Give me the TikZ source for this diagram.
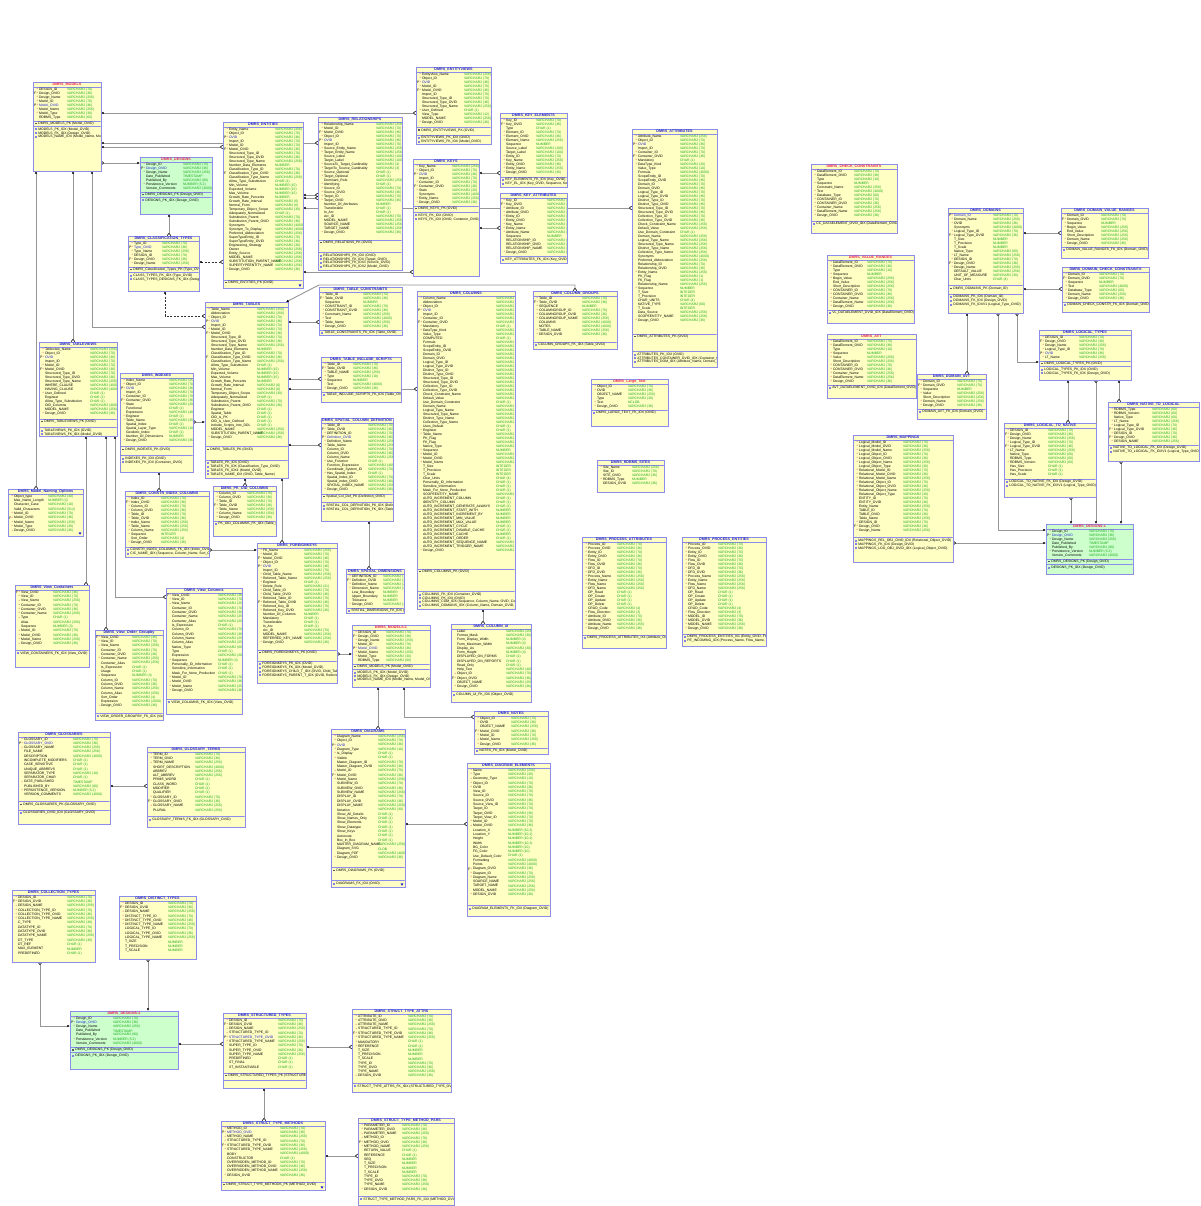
\documentclass[tikz,border=0pt]{standalone}
\usepackage{fontspec}
\setmainfont{Liberation Sans}
\usetikzlibrary{arrows.meta,positioning,backgrounds}

\definecolor{eryellow}{RGB}{255,255,196}
\definecolor{ergreen}{RGB}{204,255,204}
\definecolor{erborder}{RGB}{140,140,235}
\definecolor{ertype}{RGB}{20,170,20}
\definecolor{erblue}{RGB}{30,30,210}
\definecolor{erred}{RGB}{235,30,90}
\definecolor{linegray}{RGB}{150,150,150}

\tikzset
{
    tblbox/.style   = {draw=erborder, line width=0.8pt, fill=eryellow, inner sep=0pt, outer sep=0pt, anchor=north west},
    greenbox/.style = {fill=ergreen},
    redhead/.code   = {\gdef\ertcol{erred}},
    cell/.style     = {inner sep=0pt, outer sep=0pt, anchor=west, font=\fontsize{3.4}{4}\selectfont},
    headtext/.style = {inner sep=0pt, outer sep=0pt, font=\fontsize{3.7}{4}\selectfont\bfseries},
    sepline/.style  = {draw=erborder, line width=0.6pt},
    rel/.style      = {draw=linegray, line width=0.9pt},
    pc/.style       = {rel, {Latex[length=2.6pt,width=2.4pt,color=black]}-{Straight Barb[reversed,length=2.4pt,width=3.8pt,line width=0.6pt,color=black]}},
    dashrel/.style  = {draw=black!80, line width=0.5pt, dash pattern=on 2pt off 1.5pt}
}

% flag letter / star / name colour for each column code
\newcommand{\erLn}{}\newcommand{\erSn}{}\newcommand{\erCn}{}
\newcommand{\erLm}{}\newcommand{\erSm}{*}\newcommand{\erCm}{}
\newcommand{\erLp}{P}\newcommand{\erSp}{*}\newcommand{\erCp}{\color{erblue}}
\newcommand{\erLf}{F}\newcommand{\erSf}{*}\newcommand{\erCf}{}
\newcommand{\erLg}{F}\newcommand{\erSg}{}\newcommand{\erCg}{}

% [box options]{name}{x}{y}{width}{height}{type column}{title}
\newenvironment{ertbl}[8][]{%
  \gdef\ertcol{erblue}%
  \xdef\ername{#2}\xdef\erx{#3}\xdef\ery{#4}\xdef\erw{#5}\xdef\ertx{#7}%
  \node[tblbox,#1,minimum width=#5pt,minimum height=#6pt] (#2) at (#3,#4) {};
  \draw[sepline] ([yshift=-5.2pt]#2.north west) -- ([yshift=-5.2pt]#2.north east);
  \node[headtext,text=\ertcol] (#2-head) at ([yshift=-2.7pt]#2.north) {#8};
  \begin{scope}
  \clip (#3+0.4,#4+5.5) rectangle (#3+#5-0.4,#4+#6-0.4);
}{%
  \end{scope}
}

\newcommand{\ercols}[2][4]{%
  \xdef\erstep{#1}%
  \foreach[count=\i] \kk/\nm/\ty in {#2}{%
    \pgfmathsetmacro{\yy}{\ery+7.3+\erstep*(\i-1)}%
    \node[cell] (\ername-f\i) at (\erx+1.2,\yy) {\makebox[2.4pt][l]{\csname erL\kk\endcsname}\textcolor{erred}{\csname erS\kk\endcsname}};
    \node[cell] (\ername-c\i) at (\erx+6,\yy) {\csname erC\kk\endcsname\nm};
    \node[cell,text=ertype] (\ername-t\i) at (\erx+\ertx,\yy) {\ty};
    \xdef\ern{\i}%
  }%
  \pgfmathsetmacro{\erend}{\ery+7.3+\erstep*(\ern-1)+3.7}\xdef\ersep{\erend}%
}

\newcommand{\erline}[1][0]{%
  \pgfmathsetmacro{\erend}{\ersep+#1}\xdef\ersep{\erend}%
  \draw[sepline] (\erx,\ersep) -- (\erx+\erw,\ersep);
}

\newcommand{\erpk}[1]{%
  \pgfmathsetmacro{\yy}{\ersep+2.7}%
  \fill[black!65] (\erx+1.6,\yy-0.7) rectangle (\erx+4,\yy+0.7);
  \node[cell] (\ername-pk) at (\erx+5.4,\yy) {#1};
  \pgfmathsetmacro{\erend}{\ersep+5.4}\xdef\ersep{\erend}%
}

\newcommand{\eridx}[1]{%
  \foreach[count=\i] \ix in {#1}{%
    \pgfmathsetmacro{\yy}{\ersep+3.1+3.8*(\i-1)}%
    \fill[erblue!55] (\erx+1.6,\yy-1) rectangle (\erx+3.6,\yy+1);
    \node[cell] (\ername-x\i) at (\erx+5.4,\yy) {\ix};
  }%
}

\newcommand{\ermore}{%
  \fill[erblue] ([shift={(-3pt,1.2pt)}]\ername.south east) -- ++(1.5pt,2.5pt) -- ++(-3pt,0) -- cycle;
}

\begin{document}
\catcode`\_=12
\begin{tikzpicture}[x=1pt,y=-1pt]
\useasboundingbox (0,0) rectangle (1200,1206);

%% ---------------- upper left block
\begin{ertbl}[redhead]{models}{33}{82}{68}{89}{34}{DMRS_MODELS}
\ercols{m/DESIGN_ID/VARCHAR2 (70), f/Design_OVID/VARCHAR2 (36), m/Design_Name/VARCHAR2 (256), m/Model_ID/VARCHAR2 (70), p/Model_OVID/VARCHAR2 (36), m/Model_Name/VARCHAR2 (256), m/Model_Type/VARCHAR2 (30), n/RDBMS_Type/VARCHAR2 (60)}
\erline \erpk{DMRS_MODELS_PK (Model_OVID)} \erline
\eridx{MODELS_PK_IDX (Model_OVID), MODELS_FK_IDX (Design_OVID), {MODELS_NAME_IDX (Model_Name, Model_OVID)}}
\end{ertbl}

\begin{ertbl}[greenbox,redhead]{designs}{140}{157}{72}{57}{43}{DMRS_DESIGNS}
\ercols{m/Design_ID/VARCHAR2 (70), p/Design_OVID/VARCHAR2 (36), m/Design_Name/VARCHAR2 (256), n/Date_Published/TIMESTAMP, n/Published_By/VARCHAR2 (80), m/Persistence_Version/{NUMBER (5,2)}, n/Version_Comments/VARCHAR2 (4000)}
\erline \erpk{DMRS_DESIGNS_PK (Design_OVID)} \erline
\eridx{DESIGNS_PK_IDX (Design_OVID)}
\end{ertbl}

\begin{ertbl}{entities}{223}{122}{80}{166}{52}{DMRS_ENTITIES}
\ercols{m/Entity_Name/VARCHAR2 (256), m/Object_ID/VARCHAR2 (70), p/OVID/VARCHAR2 (36), n/Import_ID/VARCHAR2 (70), m/Model_ID/VARCHAR2 (70), f/Model_OVID/VARCHAR2 (36), n/Structured_Type_ID/VARCHAR2 (70), n/Structured_Type_OVID/VARCHAR2 (36), n/Structured_Type_Name/VARCHAR2 (256), n/Number_Data_Elements/NUMBER, n/Classification_Type_ID/VARCHAR2 (70), g/Classification_Type_OVID/VARCHAR2 (36), n/Classification_Type_Name/VARCHAR2 (256), n/Allow_Type_Substitution/CHAR (1), n/Min_Volume/NUMBER (15), n/Expected_Volume/NUMBER (15), n/Max_Volume/NUMBER (15), n/Growth_Rate_Percents/NUMBER, n/Growth_Rate_Interval/VARCHAR2 (6), n/Normal_Form/VARCHAR2 (6), n/Temporary_Object_Scope/VARCHAR2 (30), n/Adequately_Normalized/CHAR (1), n/Substitution_Parent/VARCHAR2 (70), n/Substitution_Parent_OVID/VARCHAR2 (36), n/Synonyms/VARCHAR2 (4000), n/Synonym_To_Display/VARCHAR2 (4000), n/Preferred_Abbreviation/VARCHAR2 (256), n/SuperTypeEntity_ID/VARCHAR2 (70), n/SuperTypeEntity_OVID/VARCHAR2 (36), n/Engineering_Strategy/VARCHAR2 (30), n/Owner/VARCHAR2 (256), n/Entity_Source/VARCHAR2 (256), n/MODEL_NAME/VARCHAR2 (256), n/SUBSTITUTION_PARENT_NAME/VARCHAR2 (256), n/SUPERTYPEENTITY_NAME/VARCHAR2 (256), m/Design_OVID/VARCHAR2 (36)}
\erline[7] \erpk{DMRS_ENTITIES_PK (OVID)}
\ermore
\end{ertbl}

\begin{ertbl}{relationships}{318}{117}{84}{153}{58}{DMRS_RELATIONSHIPS}
\ercols{m/Relationship_Name/VARCHAR2 (256), m/Model_ID/VARCHAR2 (70), f/Model_OVID/VARCHAR2 (36), m/Object_ID/VARCHAR2 (70), p/OVID/VARCHAR2 (36), n/Import_ID/VARCHAR2 (70), m/Source_Entity_Name/VARCHAR2 (256), m/Target_Entity_Name/VARCHAR2 (256), n/Source_Label/VARCHAR2 (100), n/Target_Label/VARCHAR2 (100), m/SourceTo_Target_Cardinality/VARCHAR2 (3), m/TargetTo_Source_Cardinality/VARCHAR2 (3), m/Source_Optional/CHAR (1), m/Target_Optional/CHAR (1), n/Dominant_Role/VARCHAR2 (256), m/Identifying/CHAR (1), m/Source_ID/VARCHAR2 (70), m/Source_OVID/VARCHAR2 (36), m/Target_ID/VARCHAR2 (70), m/Target_OVID/VARCHAR2 (36), n/Number_Of_Attributes/NUMBER, n/Transferable/CHAR (1), n/In_Arc/CHAR (1), n/Arc_ID/VARCHAR2 (70), n/MODEL_NAME/VARCHAR2 (256), n/SOURCE_NAME/VARCHAR2 (256), n/TARGET_NAME/VARCHAR2 (256), m/Design_OVID/VARCHAR2 (36)}
\erline[4] \erpk{DMRS_RELATIONS_PK (OVID)} \erline[7]
\eridx{RELATIONSHIPS_PK_IDX (OVID), RELATIONSHIPS_FK_IDX (Target_OVID), RELATIONSHIPS_FK_IDX1 (Source_OVID), RELATIONSHIPS_FK_IDX2 (Model_OVID)}
\end{ertbl}

\begin{ertbl}{classtypes}{128}{236}{71}{55}{34}{DMRS_CLASSIFICATION_TYPES}
\ercols{m/Type_ID/VARCHAR2 (70), p/Type_OVID/VARCHAR2 (36), m/Type_Name/VARCHAR2 (256), m/DESIGN_ID/VARCHAR2 (70), f/Design_OVID/VARCHAR2 (36), m/Design_Name/VARCHAR2 (256)}
\erline \erpk{DMRS_Classification_Types_PK (Type_OVID)} \erline
\eridx{CLASS_TYPES_PK_IDX (Type_OVID), CLASS_TYPES_DESIGNS_FK_IDX (Design_OVID)}
\end{ertbl}

\begin{ertbl}{tables}{205}{302}{83}{176}{52}{DMRS_TABLES}
\ercols{m/Table_Name/VARCHAR2 (256), n/Abbreviation/VARCHAR2 (256), m/Object_ID/VARCHAR2 (70), p/OVID/VARCHAR2 (36), n/Import_ID/VARCHAR2 (70), m/Model_ID/VARCHAR2 (70), f/Model_OVID/VARCHAR2 (36), n/Structured_Type_ID/VARCHAR2 (70), n/Structured_Type_OVID/VARCHAR2 (36), n/Structured_Type_Name/VARCHAR2 (256), n/Number_Data_Elements/NUMBER, n/Classification_Type_ID/VARCHAR2 (70), g/Classification_Type_OVID/VARCHAR2 (36), n/Classification_Type_Name/VARCHAR2 (256), n/Allow_Type_Substitution/CHAR (1), n/Min_Volume/NUMBER (15), n/Expected_Volume/NUMBER (15), n/Max_Volume/NUMBER (15), n/Growth_Rate_Percents/NUMBER, n/Growth_Rate_Interval/VARCHAR2 (6), n/Normal_Form/VARCHAR2 (6), n/Temporary_Object_Scope/VARCHAR2 (30), n/Adequately_Normalized/CHAR (1), n/Substitution_Parent/VARCHAR2 (70), n/Substitution_Parent_OVID/VARCHAR2 (36), n/Engineer/CHAR (1), n/Spatial_Table/CHAR (1), n/OID_is_PK/CHAR (1), n/OID_is_User_Defined/CHAR (1), n/Include_Scripts_Into_DDL/CHAR (1), n/MODEL_NAME/VARCHAR2 (256), n/SUBSTITUTION_PARENT_NAME/VARCHAR2 (256), m/Design_OVID/VARCHAR2 (36)}
\erline[5.5] \erpk{DMRS_TABLES_PK (OVID)} \erline[8]
\eridx{TABLES_PK_IDX (OVID), TABLES_FK_IDX (Classification_Type_OVID), TABLES_FK_IDX1 (Model_OVID), {TABLES_NAME_IDX (OVID, Table_Name)}}
\end{ertbl}

\begin{ertbl}{tableviews}{39}{342}{78}{94}{51}{DMRS_TABLEVIEWS}
\ercols{m/Tableview_Name/VARCHAR2 (256), m/Object_ID/VARCHAR2 (70), p/OVID/VARCHAR2 (36), n/Import_ID/VARCHAR2 (70), m/Model_ID/VARCHAR2 (70), f/Model_OVID/VARCHAR2 (36), n/Structured_Type_ID/VARCHAR2 (70), n/Structured_Type_OVID/VARCHAR2 (36), n/Structured_Type_Name/VARCHAR2 (256), n/WHERE_CLAUSE/VARCHAR2 (4000), n/HAVING_CLAUSE/VARCHAR2 (4000), m/User_Defined/CHAR (1), n/Engineer/CHAR (1), n/Allow_Type_Substitution/CHAR (1), n/OID_Columns/VARCHAR2 (4000), n/MODEL_NAME/VARCHAR2 (256), m/Design_OVID/VARCHAR2 (36)}
\erline[2] \erpk{DMRS_TABLEVIEWS_PK (OVID)} \erline[3]
\eridx{TABLEVIEWS_PK_IDX (OVID), TABLEVIEWS_FK_IDX (Model_OVID)}
\end{ertbl}

\begin{ertbl}{tableconstraints}{319}{287}{83}{48}{44}{DMRS_TABLE_CONSTRAINTS}
\ercols{m/Table_ID/VARCHAR2 (70), f/Table_OVID/VARCHAR2 (36), n/Sequence/NUMBER, m/CONSTRAINT_ID/VARCHAR2 (70), m/CONSTRAINT_OVID/VARCHAR2 (36), m/Constraint_Name/VARCHAR2 (256), m/Text/VARCHAR2 (4000), m/Table_Name/VARCHAR2 (256), m/Design_OVID/VARCHAR2 (36)}
\erline \eridx{TABLE_CONSTRAINTS_FK_IDX (Table_OVID)}
\end{ertbl}

%% ---------------- upper middle block
\begin{ertbl}{entityviews}{416}{67}{75}{77}{48}{DMRS_ENTITYVIEWS}
\ercols{m/EntityView_Name/VARCHAR2 (256), m/Object_ID/VARCHAR2 (70), p/OVID/VARCHAR2 (36), m/Model_ID/VARCHAR2 (70), f/Model_OVID/VARCHAR2 (36), n/Import_ID/VARCHAR2 (70), n/Structured_Type_ID/VARCHAR2 (70), n/Structured_Type_OVID/VARCHAR2 (36), n/Structured_Type_Name/VARCHAR2 (256), m/User_Defined/CHAR (1), n/View_Type/VARCHAR2 (12), n/MODEL_NAME/VARCHAR2 (256), m/Design_OVID/VARCHAR2 (36)}
\erline[1.5] \erpk{DMRS_ENTITYVIEWS_PK (OVID)} \erline[2]
\eridx{ENTITYVIEWS_PK_IDX (OVID), ENTITYVIEWS_FK_IDX (Model_OVID)}
\end{ertbl}

\begin{ertbl}{keyelements}{500}{113}{67}{74}{36}{DMRS_KEY_ELEMENTS}
\ercols{m/Key_ID/VARCHAR2 (70), f/Key_OVID/VARCHAR2 (36), n/Type/CHAR (1), m/Element_ID/VARCHAR2 (70), m/Element_OVID/VARCHAR2 (36), m/Element_Name/VARCHAR2 (256), n/Sequence/NUMBER, n/Source_Label/VARCHAR2 (100), n/Target_Label/VARCHAR2 (100), m/Entity_ID/VARCHAR2 (70), m/Key_Name/VARCHAR2 (256), m/Entity_OVID/VARCHAR2 (36), m/Entity_Name/VARCHAR2 (256), m/Design_OVID/VARCHAR2 (36)}
\erline[1] \eridx{KEY_ELEMENTS_FK_IDX (Key_OVID), {KEY_EL_IDX (Key_OVID, Sequence, Key_Name)}}
\end{ertbl}

\begin{ertbl}{keys}{413}{159}{66}{117}{39}{DMRS_KEYS}
\ercols{m/Key_Name/VARCHAR2 (256), m/Object_ID/VARCHAR2 (70), p/OVID/VARCHAR2 (36), n/Import_ID/VARCHAR2 (70), m/Container_ID/VARCHAR2 (70), f/Container_OVID/VARCHAR2 (36), m/State/VARCHAR2 (20), n/Synonyms/VARCHAR2 (4000), m/Entity_Name/VARCHAR2 (256), m/Design_OVID/VARCHAR2 (36)}
\erline \erpk{DMRS_KEYS_PK (OVID)} \erline[1]
\eridx{KEYS_PK_IDX (OVID), {KEYS_FK_IDX (OVID, Container_OVID, State)}}
\end{ertbl}

\begin{ertbl}{keyattributes}{500}{193}{67}{70}{47}{DMRS_KEY_ATTRIBUTES}
\ercols{m/Key_ID/VARCHAR2 (70), f/Key_OVID/VARCHAR2 (36), m/Attribute_ID/VARCHAR2 (70), m/Attribute_OVID/VARCHAR2 (36), m/Entity_ID/VARCHAR2 (70), m/Entity_OVID/VARCHAR2 (36), m/Key_Name/VARCHAR2 (256), m/Entity_Name/VARCHAR2 (256), m/Attribute_Name/VARCHAR2 (256), n/Sequence/NUMBER, n/RELATIONSHIP_ID/VARCHAR2 (70), n/RELATIONSHIP_OVID/VARCHAR2 (36), n/RELATIONSHIP_NAME/VARCHAR2 (256), m/Design_OVID/VARCHAR2 (36)}
\erline[0.5] \eridx{KEY_ATTRIBUTES_FK_IDX (Key_OVID)}
\end{ertbl}

\begin{ertbl}{attributes}{632}{129}{85}{238}{48}{DMRS_ATTRIBUTES}
\ercols{m/Attribute_Name/VARCHAR2 (256), m/Object_ID/VARCHAR2 (70), p/OVID/VARCHAR2 (36), n/Import_ID/VARCHAR2 (70), m/Container_ID/VARCHAR2 (70), f/Container_OVID/VARCHAR2 (36), m/Mandatory/CHAR (1), m/DataType_Kind/VARCHAR2 (20), n/Value_Type/VARCHAR2 (10), n/Formula/VARCHAR2 (4000), n/ScopeEntity_ID/VARCHAR2 (70), n/ScopeEntity_OVID/VARCHAR2 (36), n/Domain_ID/VARCHAR2 (70), n/Domain_OVID/VARCHAR2 (36), n/Logical_Type_ID/VARCHAR2 (70), n/Logical_Type_OVID/VARCHAR2 (36), n/Distinct_Type_ID/VARCHAR2 (70), n/Distinct_Type_OVID/VARCHAR2 (36), n/Structured_Type_ID/VARCHAR2 (70), n/Structured_Type_OVID/VARCHAR2 (36), n/Collection_Type_ID/VARCHAR2 (70), n/Collection_Type_OVID/VARCHAR2 (36), n/Check_Constraint_Name/VARCHAR2 (256), n/Default_Value/VARCHAR2 (256), n/Use_Domain_Constraint/CHAR (1), n/Domain_Name/VARCHAR2 (256), n/Logical_Type_Name/VARCHAR2 (256), n/Structured_Type_Name/VARCHAR2 (256), n/Distinct_Type_Name/VARCHAR2 (256), n/Collection_Type_Name/VARCHAR2 (256), n/Synonyms/VARCHAR2 (4000), n/Preferred_Abbreviation/VARCHAR2 (256), n/Relationship_ID/VARCHAR2 (70), n/Relationship_OVID/VARCHAR2 (36), m/Entity_Name/VARCHAR2 (256), n/PK_Flag/VARCHAR2 (1), n/FK_Flag/VARCHAR2 (1), n/Relationship_Name/VARCHAR2 (256), m/Sequence/NUMBER, n/T_Size/INTEGER, n/T_Precision/INTEGER, n/CHAR_UNITS/CHAR (4), n/NATIVE_TYPE/VARCHAR2 (60), n/T_Scale/INTEGER, n/Data_Source/VARCHAR2 (256), n/SCOPEENTITY_NAME/VARCHAR2 (256), m/Design_OVID/VARCHAR2 (36)}
\erline[10] \erpk{DMRS_ATTRIBUTES_PK (OVID)} \erline[12]
\eridx{ATTRIBUTES_PK_IDX (OVID), ATTRIBUTES_CONTAINER_OVID_IDX (Container_OVID), {ATTRIBUTES_DOM_IDX (Attribute_Name, Domain_OVID)}}
\end{ertbl}

\begin{ertbl}{columns}{417}{291}{98}{318}{79}{DMRS_COLUMNS}
\ercols{m/Column_Name/VARCHAR2 (256), n/Abbreviation/VARCHAR2 (256), m/Object_ID/VARCHAR2 (70), p/OVID/VARCHAR2 (36), n/Import_ID/VARCHAR2 (70), m/Container_ID/VARCHAR2 (70), f/Container_OVID/VARCHAR2 (36), m/Mandatory/CHAR (1), m/DataType_Kind/VARCHAR2 (20), n/Value_Type/VARCHAR2 (10), n/COMPUTED/CHAR (1), n/Formula/VARCHAR2 (4000), n/ScopeEntity_ID/VARCHAR2 (70), n/ScopeEntity_OVID/VARCHAR2 (36), n/Domain_ID/VARCHAR2 (70), n/Domain_OVID/VARCHAR2 (36), n/Logical_Type_ID/VARCHAR2 (70), n/Logical_Type_OVID/VARCHAR2 (36), n/Distinct_Type_ID/VARCHAR2 (70), n/Distinct_Type_OVID/VARCHAR2 (36), n/Structured_Type_ID/VARCHAR2 (70), n/Structured_Type_OVID/VARCHAR2 (36), n/Collection_Type_ID/VARCHAR2 (70), n/Collection_Type_OVID/VARCHAR2 (36), n/Check_Constraint_Name/VARCHAR2 (256), n/Default_Value/VARCHAR2 (256), n/Use_Domain_Constraint/CHAR (1), n/Domain_Name/VARCHAR2 (256), n/Logical_Type_Name/VARCHAR2 (256), n/Structured_Type_Name/VARCHAR2 (256), n/Distinct_Type_Name/VARCHAR2 (256), n/Collection_Type_Name/VARCHAR2 (256), n/Uses_Default/CHAR (1), m/Engineer/CHAR (1), m/Table_Name/VARCHAR2 (256), n/PK_Flag/VARCHAR2 (1), n/FK_Flag/VARCHAR2 (1), n/Native_Type/VARCHAR2 (60), m/Sequence/NUMBER, m/Model_ID/VARCHAR2 (70), m/Model_OVID/VARCHAR2 (36), m/Model_Name/VARCHAR2 (256), n/T_Size/INTEGER, n/T_Precision/INTEGER, n/T_Scale/INTEGER, n/Char_Units/CHAR (4), n/Personally_ID_Information/CHAR (1), n/Sensitive_Information/CHAR (1), n/Mask_For_None_Production/CHAR (1), n/SCOPEENTITY_NAME/VARCHAR2 (256), n/AUTO_INCREMENT_COLUMN/CHAR (1), n/IDENTITY_COLUMN/CHAR (1), n/AUTO_INCREMENT_GENERATE_ALWAYS/CHAR (1), n/AUTO_INCREMENT_START_WITH/NUMBER, n/AUTO_INCREMENT_INCREMENT_BY/NUMBER, n/AUTO_INCREMENT_MIN_VALUE/NUMBER, n/AUTO_INCREMENT_MAX_VALUE/NUMBER, n/AUTO_INCREMENT_CYCLE/CHAR (1), n/AUTO_INCREMENT_DISABLE_CACHE/CHAR (1), n/AUTO_INCREMENT_CACHE/NUMBER, n/AUTO_INCREMENT_ORDER/CHAR (1), n/AUTO_INCREMENT_SEQUENCE_NAME/VARCHAR2 (256), n/AUTO_INCREMENT_TRIGGER_NAME/VARCHAR2 (256), m/Design_OVID/VARCHAR2 (36)}
\erline[15] \erpk{DMRS_COLUMNS_PK (OVID)} \erline[17]
\eridx{COLUMNS_FK_IDX (Container_OVID), COLUMNS_PK_IDX (OVID), {COLUMNS_COM_IDX (Sequence, Column_Name, OVID, Container_OVID)}, {COLUMNS_DOMAINS_IDX (Column_Name, Domain_OVID, Container_OVID)}}
\end{ertbl}

\begin{ertbl}{columngroups}{533}{291}{84}{58}{49}{DMRS_COLUMN_GROUPS}
\ercols{m/Table_ID/VARCHAR2 (70), f/Table_OVID/VARCHAR2 (36), m/SEQUENCE/NUMBER, m/COLUMNGROUP_ID/VARCHAR2 (70), m/COLUMNGROUP_OVID/VARCHAR2 (36), m/COLUMNGROUP_NAME/VARCHAR2 (256), n/COLUMNS/VARCHAR2 (4000), n/NOTES/VARCHAR2 (4000), m/TABLE_NAME/VARCHAR2 (256), m/DESIGN_OVID/VARCHAR2 (36)}
\erline[4] \eridx{COLUMN_GROUPS_FK_IDX (Table_OVID)}
\end{ertbl}

%% ---------------- right block
\begin{ertbl}[redhead]{checkconstraints}{811}{164}{86}{69}{43}{DMRS_CHECK_CONSTRAINTS}
\ercols{m/DataElement_ID/VARCHAR2 (70), m/DataElement_OVID/VARCHAR2 (36), n/Type/VARCHAR2 (10), m/Sequence/NUMBER, n/Constraint_Name/VARCHAR2 (256), m/Text/VARCHAR2 (4000), m/Database_Type/VARCHAR2 (60), m/CONTAINER_ID/VARCHAR2 (70), m/CONTAINER_OVID/VARCHAR2 (36), m/Container_Name/VARCHAR2 (256), m/DataElement_Name/VARCHAR2 (256), m/Design_OVID/VARCHAR2 (36)}
\erline[2] \eridx{CC_DATAELEMENT_OVID_IDX (DataElement_OVID)}
\end{ertbl}

\begin{ertbl}[redhead]{valueranges}{827}{255}{87}{68}{40}{DMRS_VALUE_RANGES}
\ercols{m/DataElement_ID/VARCHAR2 (70), m/DataElement_OVID/VARCHAR2 (36), n/Type/VARCHAR2 (10), m/Sequence/NUMBER, m/Begin_Value/VARCHAR2 (256), n/End_Value/VARCHAR2 (256), n/Short_Description/VARCHAR2 (256), m/CONTAINER_ID/VARCHAR2 (70), m/CONTAINER_OVID/VARCHAR2 (36), m/Container_Name/VARCHAR2 (256), m/DataElement_Name/VARCHAR2 (256), m/Design_OVID/VARCHAR2 (36)}
\erline \eridx{VL_DATAELEMENT_OVID_IDX (DataElement_OVID)}
\end{ertbl}

\begin{ertbl}[redhead]{avt}{827}{334}{89}{64}{40}{DMRS_AVT}
\ercols{m/DataElement_ID/VARCHAR2 (70), m/DataElement_OVID/VARCHAR2 (36), n/Type/VARCHAR2 (10), m/Sequence/NUMBER, m/Value/VARCHAR2 (256), n/Short_Description/VARCHAR2 (256), m/CONTAINER_ID/VARCHAR2 (70), m/CONTAINER_OVID/VARCHAR2 (36), m/Container_Name/VARCHAR2 (256), m/DataElement_Name/VARCHAR2 (256), m/Design_OVID/VARCHAR2 (36)}
\erline \eridx{AVT_DATAELEMENT_OVID_IDX (DataElement_OVID)}
\end{ertbl}

\begin{ertbl}{domains}{948}{208}{75}{105}{45}{DMRS_DOMAINS}
\ercols{p/Domain_ID/VARCHAR2 (70), m/Domain_Name/VARCHAR2 (256), m/OVID/VARCHAR2 (36), n/Synonyms/VARCHAR2 (4000), m/Logical_Type_ID/VARCHAR2 (70), f/Logical_Type_OVID/VARCHAR2 (36), n/T_Size/NUMBER, n/T_Precision/NUMBER, n/T_Scale/NUMBER, n/Native_Type/VARCHAR2 (60), m/LT_Name/VARCHAR2 (256), m/DESIGN_ID/VARCHAR2 (70), f/Design_OVID/VARCHAR2 (36), m/Design_Name/VARCHAR2 (256), n/DEFAULT_VALUE/VARCHAR2 (256), n/UNIT_OF_MEASURE/VARCHAR2 (30), n/Char_Units/CHAR (4)}
\erline[2.5] \erpk{DMRS_DOMAINS_PK (Domain_ID)} \erline[3]
\eridx{DOMAINS_PK_IDX (Domain_ID), DOMAINS_FK_IDX (Design_OVID), DOMAINS_FK_IDXV1 (Logical_Type_OVID)}
\end{ertbl}

\begin{ertbl}{domainvalueranges}{1061}{208}{87}{50}{40}{DMRS_DOMAIN_VALUE_RANGES}
\ercols{m/Domain_ID/VARCHAR2 (70), f/Domain_OVID/VARCHAR2 (70), m/Sequence/NUMBER, m/Begin_Value/VARCHAR2 (256), n/End_Value/VARCHAR2 (256), n/Short_Description/VARCHAR2 (256), m/Domain_Name/VARCHAR2 (256), m/Design_OVID/VARCHAR2 (36)}
\erline \eridx{DOMAIN_VALUE_RANGES_FK_IDX (Domain_OVID)}
\end{ertbl}

\begin{ertbl}{domaincheck}{1062}{267}{87}{45}{37}{DMRS_DOMAIN_CHECK_CONSTRAINTS}
\ercols{m/Domain_ID/VARCHAR2 (70), f/Domain_OVID/VARCHAR2 (70), m/Sequence/NUMBER, m/Text/VARCHAR2 (4000), m/Database_Type/VARCHAR2 (60), m/Domain_Name/VARCHAR2 (256), m/Design_OVID/VARCHAR2 (36)}
\erline \eridx{DOMAIN_CHECK_CONSTR_FK_IDX (Domain_OVID)}
\end{ertbl}

\begin{ertbl}{logicaltypes}{1039}{330}{92}{50}{40}{DMRS_LOGICAL_TYPES}
\ercols{m/DESIGN_ID/VARCHAR2 (70), f/Design_OVID/VARCHAR2 (36), m/Design_Name/VARCHAR2 (256), m/Logical_Type_ID/VARCHAR2 (70), p/OVID/VARCHAR2 (36), m/LT_Name/VARCHAR2 (256)}
\erline \erpk{DMRS_LOGICAL_TYPES_PK (OVID)} \erline
\eridx{LOGICAL_TYPES_PK_IDX (OVID), LOGICAL_TYPES_FK_IDX (Design_OVID)}
\end{ertbl}

\begin{ertbl}{domainavt}{917}{374}{69}{45}{40}{DMRS_DOMAIN_AVT}
\ercols{m/Domain_ID/VARCHAR2 (70), f/Domain_OVID/VARCHAR2 (70), m/Sequence/NUMBER, m/Value/VARCHAR2 (256), n/Short_Description/VARCHAR2 (256), m/Domain_Name/VARCHAR2 (256), m/Design_OVID/VARCHAR2 (36)}
\erline \eridx{DOMAIN_AVT_FK_IDX (Domain_OVID)}
\end{ertbl}

\begin{ertbl}{mappings}{853}{435}{100}{127}{50}{DMRS_MAPPINGS}
\ercols{m/Logical_Model_ID/VARCHAR2 (70), m/Logical_Model_OVID/VARCHAR2 (36), m/Logical_Model_Name/VARCHAR2 (256), m/Logical_Object_ID/VARCHAR2 (70), m/Logical_Object_OVID/VARCHAR2 (36), m/Logical_Object_Name/VARCHAR2 (256), n/Logical_Object_Type/VARCHAR2 (30), m/Relational_Model_ID/VARCHAR2 (70), m/Relational_Model_OVID/VARCHAR2 (36), m/Relational_Model_Name/VARCHAR2 (256), m/Relational_Object_ID/VARCHAR2 (70), m/Relational_Object_OVID/VARCHAR2 (36), m/Relational_Object_Name/VARCHAR2 (256), n/Relational_Object_Type/VARCHAR2 (30), n/ENTITY_ID/VARCHAR2 (70), n/ENTITY_OVID/VARCHAR2 (36), n/Entity_Name/VARCHAR2 (256), n/TABLE_ID/VARCHAR2 (70), n/TABLE_OVID/VARCHAR2 (36), n/Table_Name/VARCHAR2 (256), m/DESIGN_ID/VARCHAR2 (70), f/Design_OVID/VARCHAR2 (36), m/Design_Name/VARCHAR2 (256)}
\erline[3.5] \eridx{MAPPINGS_REL_OBJ_OVID_IDX (Relational_Object_OVID), MAPPINGS_FK_IDX (Design_OVID), MAPPINGS_LOG_OBJ_OVID_IDX (Logical_Object_OVID)}
\end{ertbl}

\begin{ertbl}{logicaltonative}{1004}{423}{92}{74}{44}{DMRS_LOGICAL_TO_NATIVE}
\ercols{m/DESIGN_ID/VARCHAR2 (70), f/Design_OVID/VARCHAR2 (36), m/Design_Name/VARCHAR2 (256), m/Logical_Type_ID/VARCHAR2 (70), f/Logical_Type_OVID/VARCHAR2 (36), m/LT_Name/VARCHAR2 (256), n/Native_Type/VARCHAR2 (60), n/RDBMS_Type/VARCHAR2 (60), m/RDBMS_Version/VARCHAR2 (60), n/Has_Size/CHAR (1), n/Has_Precision/CHAR (1), n/Has_Scale/CHAR (1)}
\erline[1] \eridx{LOGICAL_TO_NATIVE_FK_IDX (Design_OVID), LOGICAL_TO_NATIVE_FK_IDXV1 (Logical_Type_OVID)}
\end{ertbl}

\begin{ertbl}{nativetological}{1108}{402}{91}{59}{44}{DMRS_NATIVE_TO_LOGICAL}
\ercols{m/RDBMS_Type/VARCHAR2 (60), m/RDBMS_Version/VARCHAR2 (60), n/Native_Type/VARCHAR2 (60), m/LT_Name/VARCHAR2 (256), m/Logical_Type_ID/VARCHAR2 (70), f/Logical_Type_OVID/VARCHAR2 (36), m/DESIGN_ID/VARCHAR2 (70), f/Design_OVID/VARCHAR2 (36), m/DESIGN_NAME/VARCHAR2 (256)}
\erline \eridx{NATIVE_TO_LOGICAL_FK_IDX (Design_OVID), NATIVE_TO_LOGICAL_FK_IDXV1 (Logical_Type_OVID)}
\end{ertbl}

\begin{ertbl}[greenbox,redhead]{designsone}{1046}{524}{87}{50}{43}{DMRS_DESIGNS-1}
\ercols{m/Design_ID/VARCHAR2 (70), p/Design_OVID/VARCHAR2 (36), m/Design_Name/VARCHAR2 (256), n/Date_Published/TIMESTAMP, n/Published_By/VARCHAR2 (80), m/Persistence_Version/{NUMBER (5,2)}, n/Version_Comments/VARCHAR2 (4000)}
\erline \erpk{DMRS_DESIGNS_PK (Design_OVID)} \erline
\eridx{DESIGNS_PK_IDX (Design_OVID)}
\end{ertbl}

%% ---------------- middle left block
\begin{ertbl}{indexes}{120}{373}{73}{99}{49}{DMRS_INDEXES}
\ercols{m/Index_Name/VARCHAR2 (256), m/Object_ID/VARCHAR2 (70), p/OVID/VARCHAR2 (36), n/Import_ID/VARCHAR2 (70), m/Container_ID/VARCHAR2 (70), f/Container_OVID/VARCHAR2 (36), m/State/VARCHAR2 (20), n/Functional/CHAR (1), n/Expression/VARCHAR2 (4000), m/Engineer/CHAR (1), m/Table_Name/VARCHAR2 (256), n/Spatial_Index/CHAR (1), n/Spatial_Layer_Type/VARCHAR2 (10), n/Geodetic_Index/CHAR (1), n/Number_Of_Dimensions/NUMBER, m/Design_OVID/VARCHAR2 (36)}
\erline[2.5] \erpk{DMRS_INDEXES_PK (OVID)} \erline[3.5]
\eridx{INDEXES_PK_IDX (OVID), INDEXES_FK_IDX (Container_OVID)}
\end{ertbl}

\begin{ertbl}{namingopts}{8}{489}{75}{47}{40}{DMRS_Model_Naming_Options}
\ercols[4.33]{m/Object_type/VARCHAR2 (30), n/Max_Name_Length/NUMBER (4), n/Character_Case/VARCHAR2 (10), n/Valid_Characters/VARCHAR2 (512), m/Model_ID/VARCHAR2 (70), f/Model_OVID/VARCHAR2 (36), m/Model_Name/VARCHAR2 (256), m/Model_Type/VARCHAR2 (30), m/Design_OVID/VARCHAR2 (36)}
\ermore
\end{ertbl}

\begin{ertbl}{constrindexcols}{125}{491}{84}{66}{36}{DMRS_CONSTR_INDEX_COLUMNS}
\ercols{m/Index_ID/VARCHAR2 (70), f/Index_OVID/VARCHAR2 (36), m/Column_ID/VARCHAR2 (70), m/Column_OVID/VARCHAR2 (36), m/Table_ID/VARCHAR2 (70), m/Table_OVID/VARCHAR2 (36), m/Index_Name/VARCHAR2 (256), m/Table_Name/VARCHAR2 (256), m/Column_Name/VARCHAR2 (256), m/Sequence/INTEGER, n/Sort_Order/VARCHAR2 (4), m/Design_OVID/VARCHAR2 (36)}
\erline[1] \eridx{CONSTR_INDEX_COLUMNS_FK_IDX (Index_OVID), {CIC_NAME_IDX (Sequence, Column_Name, Sort_Order)}}
\end{ertbl}

\begin{ertbl}{pkoidcols}{213}{486}{63}{50}{34}{DMRS_PK_OID_COLUMNS}
\ercols{m/Column_ID/VARCHAR2 (70), m/Column_OVID/VARCHAR2 (36), m/Table_ID/VARCHAR2 (70), f/Table_OVID/VARCHAR2 (36), m/Table_Name/VARCHAR2 (256), m/Column_Name/VARCHAR2 (256), m/Design_OVID/VARCHAR2 (36)}
\erline \eridx{PK_OID_COLUMNS_FK_IDX (Table_OVID)}
\end{ertbl}

\begin{ertbl}{tablescripts}{321}{357}{80}{45}{32}{DMRS_TABLE_INCLUDE_SCRIPTS}
\ercols{m/Table_ID/VARCHAR2 (70), f/Table_OVID/VARCHAR2 (36), m/TABLE_NAME/VARCHAR2 (256), m/Type/VARCHAR2 (10), m/Sequence/NUMBER, n/Text/VARCHAR2 (4000), m/Design_OVID/VARCHAR2 (36)}
\erline \eridx{TABLE_INCLUDE_SCRIPTS_FK_IDX (Table_OVID)}
\end{ertbl}

\begin{ertbl}{spatialcoldef}{321}{418}{72}{103}{47}{DMRS_SPATIAL_COLUMN_DEFINITION}
\ercols{m/Table_ID/VARCHAR2 (70), f/Table_OVID/VARCHAR2 (36), m/DEFINITION_ID/VARCHAR2 (70), p/Definition_OVID/VARCHAR2 (36), m/Definition_Name/VARCHAR2 (256), m/Table_Name/VARCHAR2 (256), n/Column_ID/VARCHAR2 (70), n/Column_OVID/VARCHAR2 (36), n/Column_Name/VARCHAR2 (256), m/Use_Function/CHAR (1), n/Function_Expression/VARCHAR2 (4000), n/Coordinate_System_ID/VARCHAR2 (70), m/Has_Spatial_Index/CHAR (1), n/Spatial_Index_ID/VARCHAR2 (70), n/Spatial_Index_OVID/VARCHAR2 (36), n/SPATIAL_INDEX_NAME/VARCHAR2 (256), m/Design_OVID/VARCHAR2 (36)}
\erline[1] \erpk{Spatial_Col_Def_PK (Definition_OVID)} \erline[3]
\eridx{SPATIAL_COL_DEFINITION_PK_IDX (Definition_OVID), SPATIAL_COL_DEFINITION_FK_IDX (Table_OVID)}
\end{ertbl}

\begin{ertbl}{foreignkeys}{257}{543}{80}{140}{47}{DMRS_FOREIGNKEYS}
\ercols{m/FK_Name/VARCHAR2 (256), m/Model_ID/VARCHAR2 (70), f/Model_OVID/VARCHAR2 (36), m/Object_ID/VARCHAR2 (70), p/OVID/VARCHAR2 (36), n/Import_ID/VARCHAR2 (70), m/Child_Table_Name/VARCHAR2 (256), m/Referred_Table_Name/VARCHAR2 (256), m/Engineer/CHAR (1), m/Delete_Rule/VARCHAR2 (21), m/Child_Table_ID/VARCHAR2 (70), m/Child_Table_OVID/VARCHAR2 (36), m/Referred_Table_ID/VARCHAR2 (70), f/Referred_Table_OVID/VARCHAR2 (36), m/Referred_Key_ID/VARCHAR2 (70), m/Referred_Key_OVID/VARCHAR2 (36), n/Number_Of_Columns/NUMBER, n/Mandatory/CHAR (1), n/Transferable/CHAR (1), n/In_Arc/CHAR (1), n/Arc_ID/VARCHAR2 (70), n/MODEL_NAME/VARCHAR2 (256), n/REFERRED_KEY_NAME/VARCHAR2 (256), m/Design_OVID/VARCHAR2 (36)}
\erline[4] \erpk{DMRS_FOREIGNKEYS_PK (OVID)} \erline[5.5]
\eridx{FOREIGNKEYS_PK_IDX (OVID), FOREIGNKEYS_FK_IDX (Model_OVID), {FOREIGNKEYS_CHILD_T_IDX (OVID, Child_Table_OVID)}, {FOREIGNKEYS_PARENT_T_IDX (OVID, Referred_Table_OVID)}}
\end{ertbl}

\begin{ertbl}{spatialdims}{346}{569}{58}{44}{37}{DMRS_SPATIAL_DIMENSIONS}
\ercols{m/DEFINITION_ID/VARCHAR2 (70), f/Definition_OVID/VARCHAR2 (36), m/Definition_Name/VARCHAR2 (256), m/Dimension_Name/VARCHAR2 (256), n/Low_Boundary/NUMBER, n/Upper_Boundary/NUMBER, n/Tolerance/NUMBER, m/Design_OVID/VARCHAR2 (36)}
\erline \eridx{SPATIAL_DIMENSIONS_FK_IDX (Definition_OVID)}
\end{ertbl}

\begin{ertbl}{viewcontainers}{15}{585}{74}{82}{38}{DMRS_View_Containers}
\ercols[4.3]{f/View_OVID/VARCHAR2 (36), m/View_ID/VARCHAR2 (70), m/View_Name/VARCHAR2 (256), m/Container_ID/VARCHAR2 (70), m/Container_OVID/VARCHAR2 (36), m/Container_Name/VARCHAR2 (256), m/Type/CHAR (1), n/Alias/VARCHAR2 (256), n/Sequence/NUMBER (3), m/Model_ID/VARCHAR2 (70), m/Model_OVID/VARCHAR2 (36), m/Model_Name/VARCHAR2 (256), m/Design_OVID/VARCHAR2 (36)}
\erline[2.5] \eridx{VIEW_CONTAINERS_FK_IDX (View_OVID)}
\end{ertbl}

\begin{ertbl}{viewcolumns}{166}{588}{76}{126}{52}{DMRS_View_Columns}
\ercols[4.33]{f/View_OVID/VARCHAR2 (36), m/View_ID/VARCHAR2 (70), m/View_Name/VARCHAR2 (256), n/Container_ID/VARCHAR2 (70), n/Container_OVID/VARCHAR2 (36), n/Container_Name/VARCHAR2 (256), n/Container_Alias/VARCHAR2 (256), n/Is_Expression/CHAR (1), n/Column_ID/VARCHAR2 (70), n/Column_OVID/VARCHAR2 (36), n/Column_Name/VARCHAR2 (256), n/Column_Alias/VARCHAR2 (256), n/Native_Type/VARCHAR2 (60), n/Type/CHAR (1), n/Expression/VARCHAR2 (2000), m/Sequence/NUMBER (3), n/Personally_ID_Information/CHAR (1), n/Sensitive_Information/CHAR (1), n/Mask_For_None_Production/CHAR (1), m/Model_ID/VARCHAR2 (70), m/Model_OVID/VARCHAR2 (36), m/Model_Name/VARCHAR2 (256), m/Design_OVID/VARCHAR2 (36)}
\erline[5] \eridx{VIEW_COLUMNS_FK_IDX (View_OVID)}
\end{ertbl}

\begin{ertbl}{vieworder}{95}{630}{68}{90}{37}{DMRS_View_Order_Groupby}
\ercols[4.3]{f/View_OVID/VARCHAR2 (36), m/View_ID/VARCHAR2 (70), m/View_Name/VARCHAR2 (256), n/Container_ID/VARCHAR2 (70), n/Container_OVID/VARCHAR2 (36), m/Container_Name/VARCHAR2 (256), n/Container_Alias/VARCHAR2 (256), n/Is_Expression/CHAR (1), n/Usage/CHAR (1), m/Sequence/NUMBER (3), n/Column_ID/VARCHAR2 (70), n/Column_OVID/VARCHAR2 (36), n/Column_Name/VARCHAR2 (256), n/Column_Alias/VARCHAR2 (256), n/Sort_Order/VARCHAR2 (4), n/Expression/VARCHAR2 (2000), m/Design_OVID/VARCHAR2 (36)}
\erline[3.5] \eridx{VIEW_ORDER_GROUPBY_FK_IDX (View_OVID)}
\end{ertbl}

%% ---------------- middle block
\begin{ertbl}[redhead]{modelsone}{352}{625}{78}{62}{34}{DMRS_MODELS-1}
\ercols{m/DESIGN_ID/VARCHAR2 (70), f/Design_OVID/VARCHAR2 (36), m/Design_Name/VARCHAR2 (256), m/Model_ID/VARCHAR2 (70), p/Model_OVID/VARCHAR2 (36), m/Model_Name/VARCHAR2 (256), m/Model_Type/VARCHAR2 (30), n/RDBMS_Type/VARCHAR2 (60)}
\erline \erpk{DMRS_MODELS_PK (Model_OVID)} \erline
\eridx{MODELS_PK_IDX (Model_OVID), MODELS_FK_IDX (Design_OVID), {MODELS_NAME_IDX (Model_Name, Model_OVID)}}
\end{ertbl}

\begin{ertbl}{diagrams}{331}{729}{74}{158}{47}{DMRS_DIAGRAMS}
\ercols[4.33]{m/Diagram_Name/VARCHAR2 (256), m/Object_ID/VARCHAR2 (70), p/OVID/VARCHAR2 (36), m/Diagram_Type/VARCHAR2 (10), m/Is_Display/CHAR (1), m/Visible/CHAR (1), n/Master_Diagram_ID/VARCHAR2 (70), n/Master_Diagram_OVID/VARCHAR2 (36), m/Model_ID/VARCHAR2 (70), f/Model_OVID/VARCHAR2 (36), m/Model_Name/VARCHAR2 (256), n/SUBVIEW_ID/VARCHAR2 (70), n/SUBVIEW_OVID/VARCHAR2 (36), n/SUBVIEW_NAME/VARCHAR2 (256), n/DISPLAY_ID/VARCHAR2 (70), n/DISPLAY_OVID/VARCHAR2 (36), n/DISPLAY_NAME/VARCHAR2 (256), n/Notation/VARCHAR2 (30), n/Show_All_Details/CHAR (1), n/Show_Names_Only/CHAR (1), n/Show_Elements/CHAR (1), n/Show_Datatype/CHAR (1), n/Show_Keys/CHAR (1), n/Autoroute/CHAR (1), n/Box_In_Box/CHAR (1), n/MASTER_DIAGRAM_NAME/VARCHAR2 (256), n/Diagram_SVG/CLOB, n/Diagram_PDF/VARCHAR2 (4000), m/Design_OVID/VARCHAR2 (36)}
\erline[6.5] \erpk{DMRS_DIAGRAMS_PK (OVID)} \erline[7.5]
\eridx{DIAGRAMS_FK_IDX (OVID)}
\ermore
\end{ertbl}

\begin{ertbl}[redhead]{largetext}{591}{379}{77}{47}{37}{DMRS_Large_Text}
\ercols{m/Object_ID/VARCHAR2 (70), m/OVID/VARCHAR2 (36), n/OBJECT_NAME/VARCHAR2 (256), n/Type/VARCHAR2 (30), m/Text/NCLOB, m/Design_OVID/VARCHAR2 (36)}
\erline \eridx{DMRS_LARGE_TEXT_FK_IDX (OVID)}
\end{ertbl}

\begin{ertbl}{rdbmssites}{597}{460}{67}{32}{35}{DMRS_RDBMS_SITES}
\ercols{m/Site_Name/VARCHAR2 (256), n/Site_ID/VARCHAR2 (70), n/SITE_OVID/VARCHAR2 (36), m/RDBMS_Type/NUMBER, n/DESIGN_OVID/VARCHAR2 (36)}
\end{ertbl}

\begin{ertbl}{processattrs}{582}{537}{84}{111}{35}{DMRS_PROCESS_ATTRIBUTES}
\ercols{m/Process_ID/VARCHAR2 (70), m/Process_OVID/VARCHAR2 (36), m/Entity_ID/VARCHAR2 (70), m/Entity_OVID/VARCHAR2 (36), m/Flow_ID/VARCHAR2 (70), m/Flow_OVID/VARCHAR2 (36), m/DFD_ID/VARCHAR2 (70), m/DFD_OVID/VARCHAR2 (36), m/Process_Name/VARCHAR2 (256), m/Entity_Name/VARCHAR2 (256), m/Flow_Name/VARCHAR2 (256), m/DFD_Name/VARCHAR2 (256), n/OP_Read/CHAR (1), n/OP_Create/CHAR (1), n/OP_Update/CHAR (1), n/OP_Delete/CHAR (1), n/CRUD_Code/VARCHAR2 (4), m/Flow_Direction/VARCHAR2 (3), m/Attribute_ID/VARCHAR2 (70), m/Attribute_OVID/VARCHAR2 (36), m/Attribute_Name/VARCHAR2 (256), m/Design_OVID/VARCHAR2 (36)}
\erline[3] \eridx{{DMRS_PROCESS_ATTRIBUTES_IX1 (Attribute_OVID, Process_OVID)}}
\end{ertbl}

\begin{ertbl}{processentities}{682}{537}{84}{109}{36}{DMRS_PROCESS_ENTITIES}
\ercols{m/Process_ID/VARCHAR2 (70), m/Process_OVID/VARCHAR2 (36), m/Entity_ID/VARCHAR2 (70), m/Entity_OVID/VARCHAR2 (36), m/Flow_ID/VARCHAR2 (70), m/Flow_OVID/VARCHAR2 (36), m/DFD_ID/VARCHAR2 (70), m/DFD_OVID/VARCHAR2 (36), m/Process_Name/VARCHAR2 (256), m/Entity_Name/VARCHAR2 (256), m/Flow_Name/VARCHAR2 (256), m/DFD_Name/VARCHAR2 (256), n/OP_Read/CHAR (1), n/OP_Create/CHAR (1), n/OP_Update/CHAR (1), n/OP_Delete/CHAR (1), n/CRUD_Code/VARCHAR2 (4), m/Flow_Direction/VARCHAR2 (3), m/MODEL_ID/VARCHAR2 (70), m/MODEL_OVID/VARCHAR2 (36), m/MODEL_NAME/VARCHAR2 (256), m/Design_OVID/VARCHAR2 (36)}
\erline[2] \eridx{{DMRS_PROCESS_ENTITIES_IX1 (Entity_OVID, Flow_OVID)}, {PE_INCOMING_IDX (Process_Name, Flow_Name, CRUD_Code)}}
\end{ertbl}

\begin{ertbl}{columnui}{451}{624}{80}{78}{55}{DMRS_COLUMN_UI}
\ercols[4.27]{n/Label/VARCHAR2 (256), n/Format_Mask/VARCHAR2 (30), n/Form_Display_Width/NUMBER (4), n/Form_Maximum_Width/NUMBER (4), n/Display_As/VARCHAR2 (30), n/Form_Height/NUMBER (4), n/DISPLAYED_ON_FORMS/CHAR (1), n/DISPLAYED_ON_REPORTS/CHAR (1), n/Read_Only/CHAR (1), n/Help_Text/VARCHAR2 (4000), m/Object_ID/VARCHAR2 (70), f/Object_OVID/VARCHAR2 (36), n/OBJECT_NAME/VARCHAR2 (256), m/Design_OVID/VARCHAR2 (36)}
\erline[1] \eridx{COLUMN_UI_FK_IDX (Object_OVID)}
\end{ertbl}

\begin{ertbl}{notes}{474}{711}{74}{43}{37}{DMRS_NOTES}
\ercols[4.33]{m/Object_ID/VARCHAR2 (70), m/OVID/VARCHAR2 (36), n/OBJECT_NAME/VARCHAR2 (256), f/Model_OVID/VARCHAR2 (36), m/Model_ID/VARCHAR2 (70), m/Model_Name/VARCHAR2 (256), m/Design_OVID/VARCHAR2 (36)}
\erline \eridx{NOTES_FK_IDX (Model_OVID)}
\end{ertbl}

\begin{ertbl}{diagramelements}{467}{763}{83}{153}{41}{DMRS_DIAGRAM_ELEMENTS}
\ercols[4.29]{m/Name/VARCHAR2 (256), m/Type/VARCHAR2 (30), m/Geometry_Type/VARCHAR2 (10), m/Object_ID/VARCHAR2 (70), m/OVID/VARCHAR2 (36), n/View_ID/VARCHAR2 (70), n/Source_ID/VARCHAR2 (70), n/Source_OVID/VARCHAR2 (36), n/Source_View_ID/VARCHAR2 (70), n/Target_ID/VARCHAR2 (70), n/Target_OVID/VARCHAR2 (36), n/Target_View_ID/VARCHAR2 (70), m/Model_ID/VARCHAR2 (70), m/Model_OVID/VARCHAR2 (36), n/Location_X/{NUMBER (10,2)}, n/Location_Y/{NUMBER (10,2)}, n/Height/{NUMBER (10,2)}, n/Width/{NUMBER (10,2)}, n/BG_Color/NUMBER (10), n/FG_Color/NUMBER (10), n/Use_Default_Color/CHAR (1), n/Formatting/VARCHAR2 (4000), n/Points/VARCHAR2 (4000), f/Diagram_OVID/VARCHAR2 (36), m/Diagram_ID/VARCHAR2 (70), m/Diagram_Name/VARCHAR2 (256), n/SOURCE_NAME/VARCHAR2 (256), n/TARGET_NAME/VARCHAR2 (256), n/MODEL_NAME/VARCHAR2 (256), m/DESIGN_OVID/VARCHAR2 (36)}
\erline[7] \eridx{DIAGRAM_ELEMENTS_FK_IDX (Diagram_OVID)}
\end{ertbl}

%% ---------------- lower left block
\begin{ertbl}{glossaries}{18}{732}{92}{92}{55}{DMRS_GLOSSARIES}
\ercols[4.27]{m/GLOSSARY_ID/VARCHAR2 (70), p/GLOSSARY_OVID/VARCHAR2 (36), m/GLOSSARY_NAME/VARCHAR2 (256), n/FILE_NAME/VARCHAR2 (256), n/DESCRIPTION/VARCHAR2 (4000), n/INCOMPLETE_MODIFIERS/CHAR (1), n/CASE_SENSITIVE/CHAR (1), n/UNIQUE_ABBREVS/CHAR (1), n/SEPARATOR_TYPE/VARCHAR2 (10), n/SEPARATOR_CHAR/CHAR (1), m/DATE_PUBLISHED/TIMESTAMP, n/PUBLISHED_BY/VARCHAR2 (80), m/PERSISTENCE_VERSION/{NUMBER (5,2)}, n/VERSION_COMMENTS/VARCHAR2 (4000)}
\erline[3] \erpk{DMRS_GLOSSARIES_PK (GLOSSARY_OVID)} \erline[3]
\eridx{GLOSSARIES_OVID_IDX (GLOSSARY_OVID)}
\end{ertbl}

\begin{ertbl}{glossaryterms}{147}{747}{98}{80}{48}{DMRS_GLOSSARY_TERMS}
\ercols[4.3]{m/TERM_ID/VARCHAR2 (70), m/TERM_OVID/VARCHAR2 (36), m/TERM_NAME/VARCHAR2 (256), n/SHORT_DESCRIPTION/VARCHAR2 (4000), n/ABBREV/VARCHAR2 (256), n/ALT_ABBREV/VARCHAR2 (256), n/PRIME_WORD/CHAR (1), n/CLASS_WORD/CHAR (1), n/MODIFIER/CHAR (1), n/QUALIFIER/CHAR (1), m/GLOSSARY_ID/VARCHAR2 (70), f/GLOSSARY_OVID/VARCHAR2 (36), m/GLOSSARY_NAME/VARCHAR2 (256), n/PLURAL/VARCHAR2 (256)}
\erline[2.5] \eridx{GLOSSARY_TERMS_FK_IDX (GLOSSARY_OVID)}
\end{ertbl}

\begin{ertbl}{collectiontypes}{12}{890}{83}{72}{55}{DMRS_COLLECTION_TYPES}
\ercols[4.3]{m/DESIGN_ID/VARCHAR2 (70), f/DESIGN_OVID/VARCHAR2 (36), m/DESIGN_NAME/VARCHAR2 (256), m/COLLECTION_TYPE_ID/VARCHAR2 (70), m/COLLECTION_TYPE_OVID/VARCHAR2 (36), m/COLLECTION_TYPE_NAME/VARCHAR2 (256), n/C_TYPE/VARCHAR2 (30), n/DATATYPE_ID/VARCHAR2 (70), n/DATATYPE_OVID/VARCHAR2 (36), n/DATATYPE_NAME/VARCHAR2 (256), n/DT_TYPE/VARCHAR2 (30), n/DT_REF/CHAR (1), n/MAX_ELEMENT/NUMBER, n/PREDEFINED/CHAR (1)}
\end{ertbl}

\begin{ertbl}{distincttypes}{119}{896}{77}{63}{49}{DMRS_DISTINCT_TYPES}
\ercols[4.3]{m/DESIGN_ID/VARCHAR2 (70), f/DESIGN_OVID/VARCHAR2 (36), m/DESIGN_NAME/VARCHAR2 (256), m/DISTINCT_TYPE_ID/VARCHAR2 (70), m/DISTINCT_TYPE_OVID/VARCHAR2 (36), m/DISTINCT_TYPE_NAME/VARCHAR2 (256), n/LOGICAL_TYPE_ID/VARCHAR2 (70), n/LOGICAL_TYPE_OVID/VARCHAR2 (36), n/LOGICAL_TYPE_NAME/VARCHAR2 (256), n/T_SIZE/NUMBER, n/T_PRECISION/NUMBER, n/T_SCALE/NUMBER}
\end{ertbl}

\begin{ertbl}[greenbox,redhead]{designstwo}{70}{1011}{108}{58}{43}{DMRS_DESIGNS-2}
\ercols[4.2]{m/Design_ID/VARCHAR2 (70), p/Design_OVID/VARCHAR2 (36), m/Design_Name/VARCHAR2 (256), n/Date_Published/TIMESTAMP, n/Published_By/VARCHAR2 (80), m/Persistence_Version/{NUMBER (5,2)}, n/Version_Comments/VARCHAR2 (4000)}
\erline \erpk{DMRS_DESIGNS_PK (Design_OVID)} \erline
\eridx{DESIGNS_PK_IDX (Design_OVID)}
\end{ertbl}

\begin{ertbl}{structuredtypes}{223}{1013}{83}{75}{55}{DMRS_STRUCTURED_TYPES}
\ercols[4.27]{m/DESIGN_ID/VARCHAR2 (70), f/DESIGN_OVID/VARCHAR2 (36), m/DESIGN_NAME/VARCHAR2 (256), m/STRUCTURED_TYPE_ID/VARCHAR2 (70), p/STRUCTURED_TYPE_OVID/VARCHAR2 (36), m/STRUCTURED_TYPE_NAME/VARCHAR2 (256), n/SUPER_TYPE_ID/VARCHAR2 (70), n/SUPER_TYPE_OVID/VARCHAR2 (36), n/SUPER_TYPE_NAME/VARCHAR2 (256), n/PREDEFINED/CHAR (1), n/ST_FINAL/CHAR (1), n/ST_INSTANTIABLE/CHAR (1)}
\erline[2] \erpk{DMRS_STRUCTURED_TYPES_PK (STRUCTURED_TYPE_OVID)} \erline[1.5]
\end{ertbl}

\begin{ertbl}{structattrs}{352}{1009}{99}{83}{56}{DMRS_STRUCT_TYPE_ATTRS}
\ercols[4.27]{m/ATTRIBUTE_ID/VARCHAR2 (70), m/ATTRIBUTE_OVID/VARCHAR2 (36), m/ATTRIBUTE_NAME/VARCHAR2 (256), m/STRUCTURED_TYPE_ID/VARCHAR2 (70), f/STRUCTURED_TYPE_OVID/VARCHAR2 (36), m/STRUCTURED_TYPE_NAME/VARCHAR2 (256), m/MANDATORY/CHAR (1), m/REFERENCE/CHAR (1), n/T_SIZE/NUMBER, n/T_PRECISION/NUMBER, n/T_SCALE/NUMBER, n/TYPE_ID/VARCHAR2 (70), n/TYPE_OVID/VARCHAR2 (36), n/TYPE_NAME/VARCHAR2 (256), m/DESIGN_OVID/VARCHAR2 (36)}
\erline[3.5] \eridx{STRUCT_TYPE_ATTRS_FK_IDX (STRUCTURED_TYPE_OVID)}
\end{ertbl}

\begin{ertbl}{structmethods}{221}{1121}{104}{69}{59}{DMRS_STRUCT_TYPE_METHODS}
\ercols[4.27]{m/METHOD_ID/VARCHAR2 (70), p/METHOD_OVID/VARCHAR2 (36), m/METHOD_NAME/VARCHAR2 (256), m/STRUCTURED_TYPE_ID/VARCHAR2 (70), f/STRUCTURED_TYPE_OVID/VARCHAR2 (36), m/STRUCTURED_TYPE_NAME/VARCHAR2 (256), n/BODY/VARCHAR2 (4000), n/CONSTRUCTOR/CHAR (1), n/OVERRIDDEN_METHOD_ID/VARCHAR2 (70), n/OVERRIDDEN_METHOD_OVID/VARCHAR2 (36), n/OVERRIDDEN_METHOD_NAME/VARCHAR2 (256), m/DESIGN_OVID/VARCHAR2 (36)}
\erline[3] \erpk{DMRS_STRUCT_TYPE_METHODS_PK (METHOD_OVID)}
\ermore
\end{ertbl}

\begin{ertbl}{methodpars}{358}{1118}{96}{87}{44}{DMRS_STRUCT_TYPE_METHOD_PARS}
\ercols[4.27]{m/PARAMETER_ID/VARCHAR2 (70), m/PARAMETER_OVID/VARCHAR2 (36), m/PARAMETER_NAME/VARCHAR2 (256), m/METHOD_ID/VARCHAR2 (70), f/METHOD_OVID/VARCHAR2 (36), m/METHOD_NAME/VARCHAR2 (256), n/RETURN_VALUE/CHAR (1), n/REFERENCE/CHAR (1), n/SEQ/NUMBER, n/T_SIZE/NUMBER, n/T_PRECISION/NUMBER, n/T_SCALE/NUMBER, n/TYPE_ID/VARCHAR2 (70), n/TYPE_OVID/VARCHAR2 (36), n/TYPE_NAME/VARCHAR2 (256), m/DESIGN_OVID/VARCHAR2 (36)}
\erline[3] \eridx{STRUCT_TYPE_METHOD_PARS_FK_IDX (METHOD_OVID)}
\end{ertbl}

%% ---------------- relations, behind the tables
\begin{scope}[on background layer]
\fill[white] (0,0) rectangle (1200,1206);
\coordinate (cgbend) at (319,285);
% models
\draw[pc] (models.east |- 0,113) -- (entityviews.west |- 0,113);
\draw[pc] (models.east |- 0,143) -- (relationships.west |- 0,143);
\draw[pc] (models.east |- 0,147) -- (entities.west |- 0,147);
\draw[pc] (designs.west |- 0,163) -- (models.east |- 0,163);
\draw[pc] (models.south -| 92,0) |- (tables.west |- 0,327);
\draw[pc] (models.south -| 73,0) -- (tableviews.north -| 73,0);
\draw[pc] (models.south -| 36,0) -- (namingopts.north -| 36,0);
\draw[pc] (designs.south -| 169,0) -- (classtypes.north -| 169,0);
\draw[pc,dashrel] (classtypes.east |- 0,262) -- (entities.west |- 0,262);
\draw[pc,dashrel] (classtypes.south -| 165,0) |- (tables.west |- 0,316);
% entities
\draw[pc] (entities.east |- 0,195) -- (relationships.west |- 0,195);
\draw[pc] (entities.east |- 0,198) -- (relationships.west |- 0,198);
\draw[pc] (entities.east |- 0,208) -- (attributes.west |- 0,208);
\draw[pc] (entities.east |- 0,272) -- (keys.west |- 0,272);
\draw[pc] (keys.east |- 0,173) -- (keyelements.west |- 0,173);
\draw[pc] (keys.east |- 0,228) -- (keyattributes.west |- 0,228);
% tables
\draw[pc] ([xshift=-2pt]tables.north east) -- (cgbend) -| (columngroups.north);
\draw[pc] (tables.east |- 0,322) -- (tableconstraints.west |- 0,322);
\draw[pc] (tables.east |- 0,379) -- (tablescripts.west |- 0,379);
\draw[pc] (tables.east |- 0,389) -- (columns.west |- 0,389);
\draw[pc] (tables.east |- 0,445) -- (spatialcoldef.west |- 0,445);
\draw[pc] (tables.west |- 0,422) -- (indexes.east |- 0,422);
\draw[pc] (tables.south -| 245,0) -- (pkoidcols.north -| 245,0);
\draw[pc] (tables.south -| 282,0) -- (foreignkeys.north -| 282,0);
\draw[pc] (indexes.south -| 159,0) -- (constrindexcols.north -| 159,0);
\draw[pc] (foreignkeys.west |- 0,550) -- (constrindexcols.east |- 0,550);
\draw[pc] (spatialcoldef.south -| 369,0) -- (spatialdims.north -| 369,0);
\draw[pc] (columns.south -| 483,0) -- (columnui.north -| 483,0);
% views
\draw[pc] (tableviews.south -| 86,0) -- (viewcontainers.north -| 86,0);
\draw[pc] (tableviews.south -| 106,0) -- (vieworder.north -| 106,0);
\draw[pc] (tableviews.south -| 115,0) |- (viewcolumns.west |- 0,597);
% models copy
\draw[pc] (modelsone.west |- 0,654) -- (foreignkeys.east |- 0,654);
\draw[pc] (modelsone.south -| 378,0) -- (diagrams.north -| 378,0);
\draw[pc] (modelsone.south -| 404,0) |- (notes.west |- 0,717);
\draw[pc] (diagrams.east |- 0,824) -- (diagramelements.west |- 0,824);
\draw[pc] (glossaries.east |- 0,786) -- (glossaryterms.west |- 0,786);
% domains
\draw[pc] (domains.east |- 0,233) -- (domainvalueranges.west |- 0,233);
\draw[pc] (domains.east |- 0,289) -- (domaincheck.west |- 0,289);
\draw[pc] (domains.south -| 967,0) -- (domainavt.north -| 967,0);
\draw[pc] (logicaltypes.west |- 0,362) -| (domains.south -| 1017,0);
\draw[pc] (designsone.west |- 0,530) -| (domains.south -| 998,0);
\draw[pc] (logicaltypes.south -| 1068,0) -- (logicaltonative.north -| 1068,0);
\draw[pc] (designsone.north -| 1096,0) -- (logicaltypes.south -| 1096,0);
\draw[pc] (logicaltypes.south -| 1119,0) -- (nativetological.north -| 1119,0);
\draw[pc] (designsone.north -| 1071,0) -- (logicaltonative.south -| 1071,0);
\draw[pc] (designsone.north -| 1121,0) -- (nativetological.south -| 1121,0);
\draw[pc] (designsone.west |- 0,543) -- (mappings.east |- 0,543);
% types
\draw[pc] (designstwo.west |- 0,1026) -| (collectiontypes.south -| 40,0);
\draw[pc] (designstwo.north -| 148,0) -- (distincttypes.south -| 148,0);
\draw[pc] (designstwo.east |- 0,1044) -- (structuredtypes.west |- 0,1044);
\draw[pc] (structuredtypes.east |- 0,1047) -- (structattrs.west |- 0,1047);
\draw[pc] (structuredtypes.south -| 264,0) -- (structmethods.north -| 264,0);
\draw[pc] (structmethods.east |- 0,1156) -- (methodpars.west |- 0,1156);
\end{scope}
\end{tikzpicture}
\end{document}
